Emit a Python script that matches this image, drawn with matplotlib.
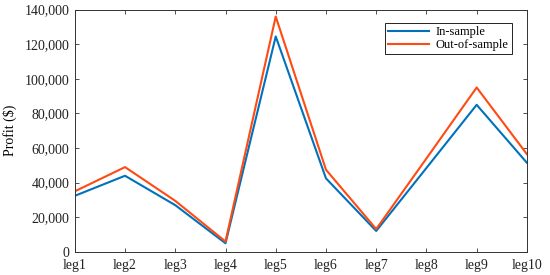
import matplotlib
matplotlib.use("Agg")
import matplotlib.pyplot as plt
from matplotlib.ticker import FuncFormatter

legs = ["leg1", "leg2", "leg3", "leg4", "leg5", "leg6", "leg7", "leg8", "leg9", "leg10"]
in_sample = [32400, 44000, 27000, 5000, 124500, 42500, 12100, 48500, 85000, 51500]
out_sample = [35000, 49000, 29500, 6000, 136000, 47500, 13200, 54000, 95000, 56500]
yticks = [0, 20000, 40000, 60000, 80000, 100000, 120000, 140000]

plt.rcParams["font.family"] = ["Liberation Serif", "DejaVu Serif"]

fig = plt.figure(figsize=(5.5, 2.75), dpi=100)
ax = fig.add_axes([0.136, 0.084, 0.822, 0.881])
x = range(len(legs))
ax.plot(x, in_sample, color="#0072BD", lw=1.5, label="In-sample")
ax.plot(x, out_sample, color="#FF4A12", lw=1.5, label="Out-of-sample")

ax.set_xlim(0, len(legs) - 1)
ax.set_ylim(0, 140000)
ax.set_xticks(list(x))
ax.set_xticklabels(legs)
ax.set_yticks(yticks)
ax.yaxis.set_major_formatter(FuncFormatter(lambda v, p: f"{int(v):,}"))
ax.tick_params(direction="in", top=True, right=True, labelsize=10, length=3,
               width=0.6, colors="#333333", labelcolor="#222222", pad=4)
ax.tick_params(axis="x", pad=5)
for s in ax.spines.values():
    s.set_linewidth(0.7)
    s.set_color("#333333")
ax.set_ylabel("Profit (\\$)", fontsize=10, labelpad=5)

leg = ax.legend(loc="upper right", fontsize=9, fancybox=False, framealpha=1,
                edgecolor="#222222", handlelength=3.3, borderpad=0.25,
                labelspacing=0.05, handletextpad=0.5,
                bbox_to_anchor=(0.98, 0.97))
leg.get_frame().set_linewidth(0.7)

fig.savefig("out.png", dpi=100)
